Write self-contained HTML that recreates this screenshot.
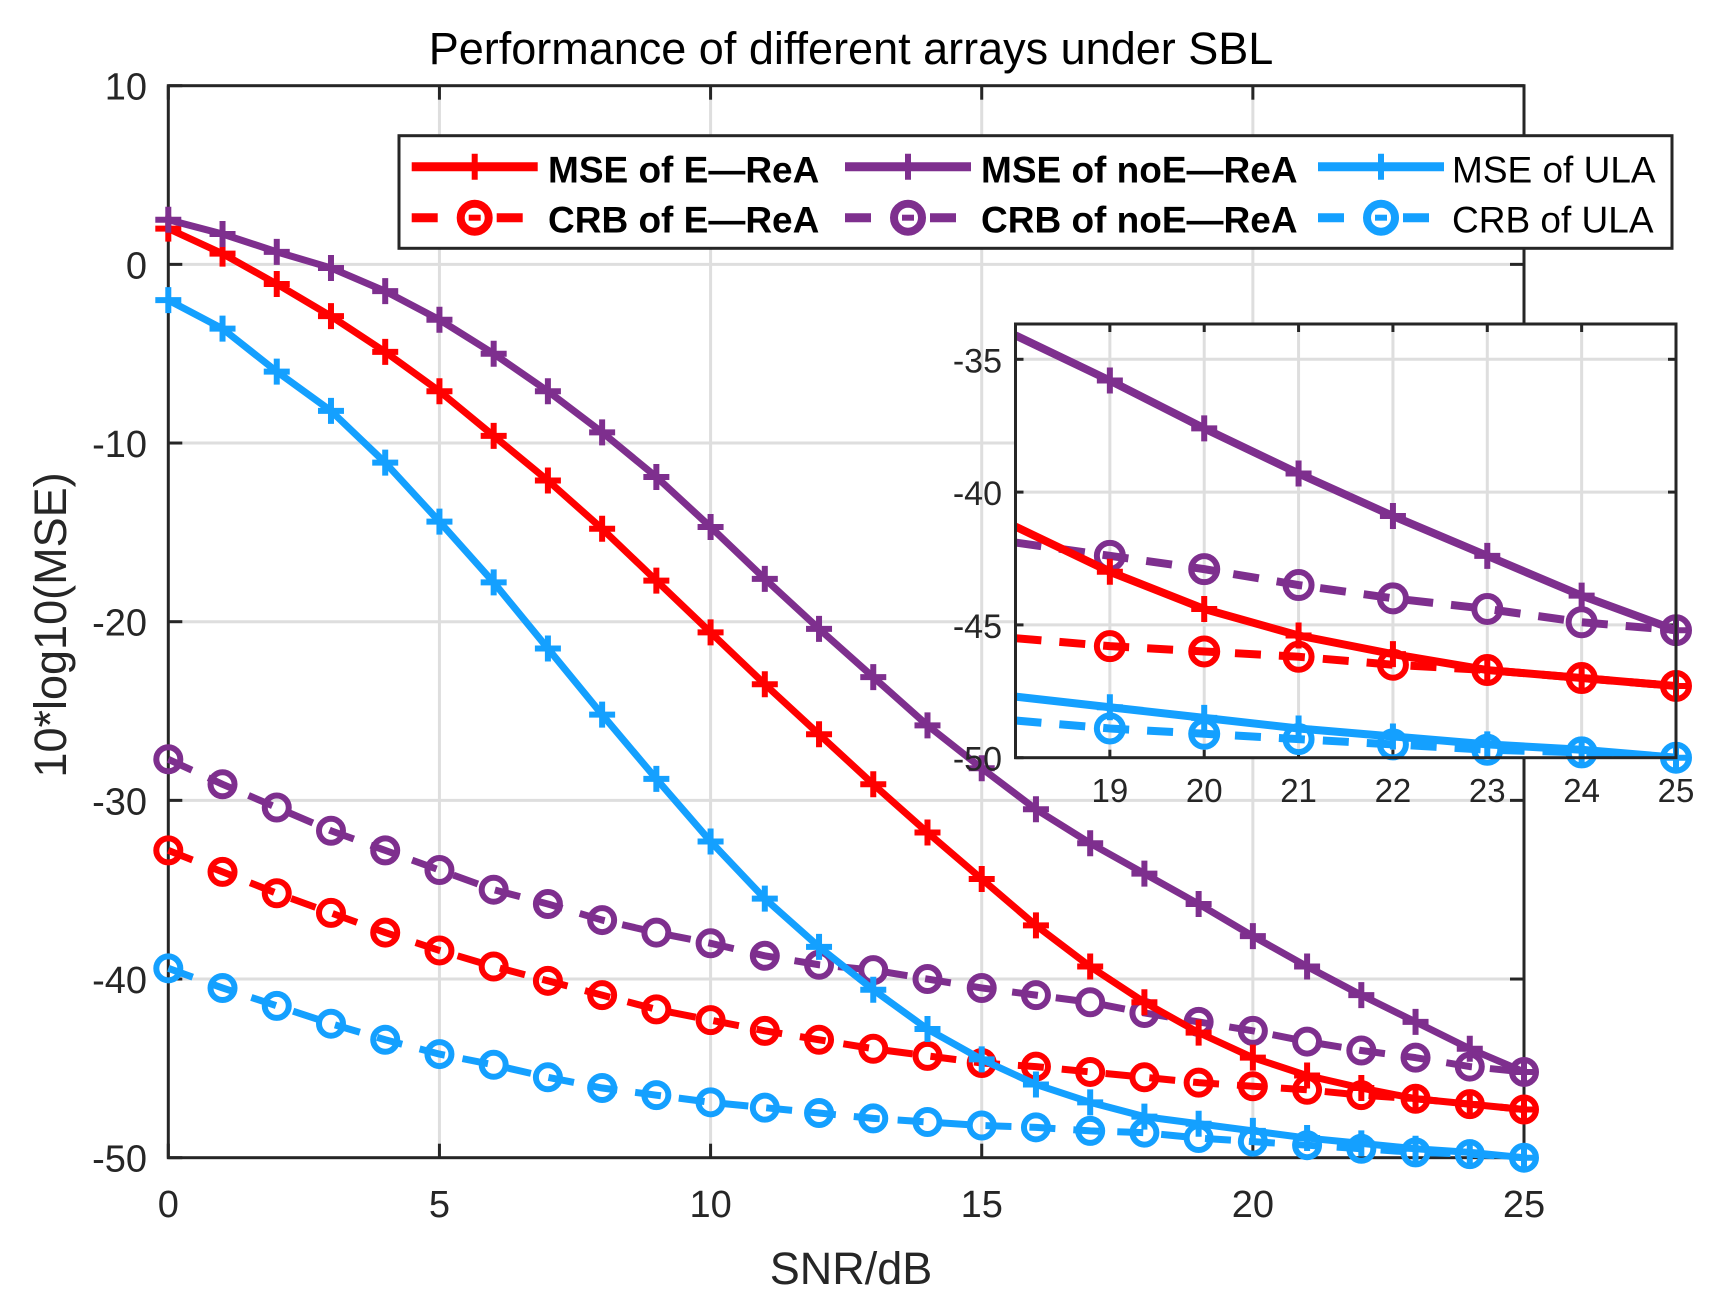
<!DOCTYPE html>
<html><head><meta charset="utf-8"><style>
html,body{margin:0;padding:0;background:#fff;}
svg{display:block;font-family:"Liberation Sans",Arial,sans-serif;}
</style></head><body>
<svg id="s" width="1719" height="1309" viewBox="0 0 1719 1309" xmlns="http://www.w3.org/2000/svg"></svg>
<script>
const S=document.getElementById('s');
let h='';
const R='#ff0000',P='#7e2f8e',B='#14a0ff';
const d={
 mR:[2,0.6,-1.1,-2.9,-4.9,-7.1,-9.6,-12.1,-14.8,-17.7,-20.6,-23.5,-26.3,-29.1,-31.8,-34.4,-37,-39.3,-41.3,-43,-44.4,-45.4,-46.1,-46.7,-47.0,-47.3],
 mP:[2.5,1.7,0.7,-0.2,-1.5,-3.1,-5,-7.1,-9.4,-11.9,-14.7,-17.6,-20.4,-23.1,-25.8,-28.2,-30.5,-32.4,-34.1,-35.8,-37.6,-39.3,-40.9,-42.4,-43.9,-45.2],
 mB:[-2,-3.6,-6,-8.2,-11.1,-14.4,-17.8,-21.5,-25.2,-28.8,-32.3,-35.5,-38.2,-40.6,-42.8,-44.5,-45.9,-46.9,-47.7,-48.1,-48.5,-48.9,-49.2,-49.5,-49.7,-50],
 cR:[-32.8,-34,-35.2,-36.3,-37.4,-38.4,-39.3,-40.1,-40.9,-41.7,-42.3,-42.9,-43.4,-43.9,-44.3,-44.7,-44.9,-45.2,-45.5,-45.8,-46.0,-46.2,-46.5,-46.7,-47.0,-47.3],
 cP:[-27.7,-29.1,-30.4,-31.7,-32.8,-33.9,-35,-35.8,-36.7,-37.4,-38,-38.7,-39.2,-39.5,-40,-40.5,-40.9,-41.3,-41.9,-42.4,-42.9,-43.5,-44,-44.4,-44.9,-45.2],
 cB:[-39.4,-40.5,-41.5,-42.5,-43.4,-44.2,-44.8,-45.5,-46.1,-46.5,-46.9,-47.2,-47.5,-47.8,-48,-48.2,-48.3,-48.5,-48.6,-48.9,-49.1,-49.3,-49.5,-49.7,-49.8,-50]
};
const LW=7, DA='26 18';
function plus(x,y,c,s){return `<path d="M${x-s} ${y}H${x+s}M${x} ${y-s}V${y+s}" stroke="${c}" stroke-width="6" fill="none"/>`;}
function circ(x,y,c,r){return `<circle cx="${x}" cy="${y}" r="${r}" stroke="${c}" stroke-width="6" fill="none"/>`;}
function series(X,Y,arr,x0,x1,c,dash,mk){
 let pts=[];for(let i=x0;i<=x1;i++)pts.push([X(i),Y(arr[i])]);
 let o=`<polyline points="${pts.map(p=>p.join(',')).join(' ')}" fill="none" stroke="${c}" stroke-width="${LW}" stroke-linejoin="round" ${dash?`stroke-dasharray="${DA}"`:''}/>`;
 pts.forEach(p=>{o+=mk?plus(p[0],p[1],c,13):circ(p[0],p[1],c,12);});
 return o;}
const L=168.3,Rt=1524,T=85.7,Bo=1157.7;
const X=v=>L+(Rt-L)*v/25, Y=v=>T+(Bo-T)*(10-v)/60;
for(let v=5;v<25;v+=5)h+=`<line x1="${X(v)}" y1="${T}" x2="${X(v)}" y2="${Bo}" stroke="#dedede" stroke-width="3"/>`;
for(let v=0;v>-50;v-=10)h+=`<line x1="${L}" y1="${Y(v)}" x2="${Rt}" y2="${Y(v)}" stroke="#dedede" stroke-width="3"/>`;
for(let v=0;v<=25;v+=5){h+=`<line x1="${X(v)}" y1="${Bo}" x2="${X(v)}" y2="${Bo-14}" stroke="#262626" stroke-width="3"/><line x1="${X(v)}" y1="${T}" x2="${X(v)}" y2="${T+14}" stroke="#262626" stroke-width="3"/>`;
 h+=`<text x="${X(v)}" y="1217" font-size="38" text-anchor="middle" fill="#262626">${v}</text>`;}
for(let v=10;v>=-50;v-=10){h+=`<line x1="${L}" y1="${Y(v)}" x2="${L+14}" y2="${Y(v)}" stroke="#262626" stroke-width="3"/><line x1="${Rt}" y1="${Y(v)}" x2="${Rt-14}" y2="${Y(v)}" stroke="#262626" stroke-width="3"/>`;
 h+=`<text x="147" y="${Y(v)+14}" font-size="38" text-anchor="end" fill="#262626">${v}</text>`;}
h+=`<rect x="${L}" y="${T}" width="${Rt-L}" height="${Bo-T}" fill="none" stroke="#262626" stroke-width="3"/>`;
h+=`<text x="851" y="64" font-size="45" text-anchor="middle" fill="#000">Performance of different arrays under SBL</text>`;
h+=`<text x="851" y="1284" font-size="45" text-anchor="middle" fill="#262626">SNR/dB</text>`;
h+=`<text transform="translate(66,625) rotate(-90)" font-size="45" text-anchor="middle" fill="#262626">10*log10(MSE)</text>`;
h+=series(X,Y,d.cB,0,25,B,1,0)+series(X,Y,d.cR,0,25,R,1,0)+series(X,Y,d.cP,0,25,P,1,0);
h+=series(X,Y,d.mB,0,25,B,0,1)+series(X,Y,d.mR,0,25,R,0,1)+series(X,Y,d.mP,0,25,P,0,1);
const iL=1015.5,iR=1676,iT=324,iB=757.7;
const XI=v=>iL+(iR-iL)*(v-18)/7, YI=v=>iB-(iB-359.3)*(v+50)/15;
h+=`<rect x="${iL}" y="${iT}" width="${iR-iL}" height="${iB-iT}" fill="#fff"/>`;
for(let v=19;v<25;v++)h+=`<line x1="${XI(v)}" y1="${iT}" x2="${XI(v)}" y2="${iB}" stroke="#dedede" stroke-width="3"/>`;
for(let v=-35;v>-50;v-=5)h+=`<line x1="${iL}" y1="${YI(v)}" x2="${iR}" y2="${YI(v)}" stroke="#dedede" stroke-width="3"/>`;
for(let v=19;v<=25;v++){h+=`<line x1="${XI(v)}" y1="${iB}" x2="${XI(v)}" y2="${iB-8}" stroke="#262626" stroke-width="3"/><line x1="${XI(v)}" y1="${iT}" x2="${XI(v)}" y2="${iT+8}" stroke="#262626" stroke-width="3"/>`;
 h+=`<text x="${XI(v)}" y="802" font-size="33" text-anchor="middle" fill="#262626">${v}</text>`;}
for(let v=-35;v>=-50;v-=5){h+=`<line x1="${iL}" y1="${YI(v)}" x2="${iL+8}" y2="${YI(v)}" stroke="#262626" stroke-width="3"/><line x1="${iR}" y1="${YI(v)}" x2="${iR-8}" y2="${YI(v)}" stroke="#262626" stroke-width="3"/>`;
 h+=`<text x="1002" y="${YI(v)+13}" font-size="34" text-anchor="end" fill="#262626">${v}</text>`;}
h+=`<defs><clipPath id="ci"><rect x="${iL}" y="${iT}" width="${iR-iL}" height="${iB-iT}"/></clipPath></defs>`;
function iser(arr,c,dash,mk){
 let pts=[];for(let i=18;i<=25;i++)pts.push([XI(i),YI(arr[i])]);
 let o=`<polyline clip-path="url(#ci)" points="${pts.map(p=>p.join(',')).join(' ')}" fill="none" stroke="${c}" stroke-width="${LW+1}" ${dash?`stroke-dasharray="${DA}"`:''}/>`;
 pts.slice(1).forEach(p=>{o+=mk?plus(p[0],p[1],c,13):circ(p[0],p[1],c,13);});return o;}
h+=iser(d.cB,B,1,0)+iser(d.cR,R,1,0)+iser(d.cP,P,1,0)+iser(d.mB,B,0,1)+iser(d.mR,R,0,1)+iser(d.mP,P,0,1);
h+=`<rect x="${iL}" y="${iT}" width="${iR-iL}" height="${iB-iT}" fill="none" stroke="#262626" stroke-width="3"/>`;
h+=`<rect x="399" y="135.7" width="1273" height="112.6" fill="#fff" stroke="#262626" stroke-width="3"/>`;
const cols=[[411.7,537.7,548,R,'MSE of E—ReA','CRB of E—ReA',1],[845,971,981,P,'MSE of noE—ReA','CRB of noE—ReA',1],[1318,1444,1452,B,'MSE of ULA','CRB of ULA',0]];
cols.forEach(c=>{const m=(c[0]+c[1])/2;
 h+=`<line x1="${c[0]}" y1="166.7" x2="${c[1]}" y2="166.7" stroke="${c[3]}" stroke-width="${LW+2}"/>`+plus(m,166.7,c[3],13);
 h+=`<line x1="${c[0]}" y1="217.7" x2="${m-22}" y2="217.7" stroke="${c[3]}" stroke-width="${LW+2}" stroke-dasharray="26 200"/>`;
 h+=`<line x1="${m+22}" y1="217.7" x2="${c[1]}" y2="217.7" stroke="${c[3]}" stroke-width="${LW+2}" stroke-dasharray="26 200"/>`;
 h+=`<circle cx="${m}" cy="217.7" r="14" fill="none" stroke="${c[3]}" stroke-width="8"/><line x1="${m-6}" y1="217.7" x2="${m+6}" y2="217.7" stroke="${c[3]}" stroke-width="6"/>`;
 h+=`<text x="${c[2]}" y="182.7" font-size="37" ${c[6]?'font-weight="bold"':''} fill="#000">${c[4]}</text>`;
 h+=`<text x="${c[2]}" y="232.7" font-size="37" ${c[6]?'font-weight="bold"':''} fill="#000">${c[5]}</text>`;});
S.innerHTML=h;
</script>
</body></html>
